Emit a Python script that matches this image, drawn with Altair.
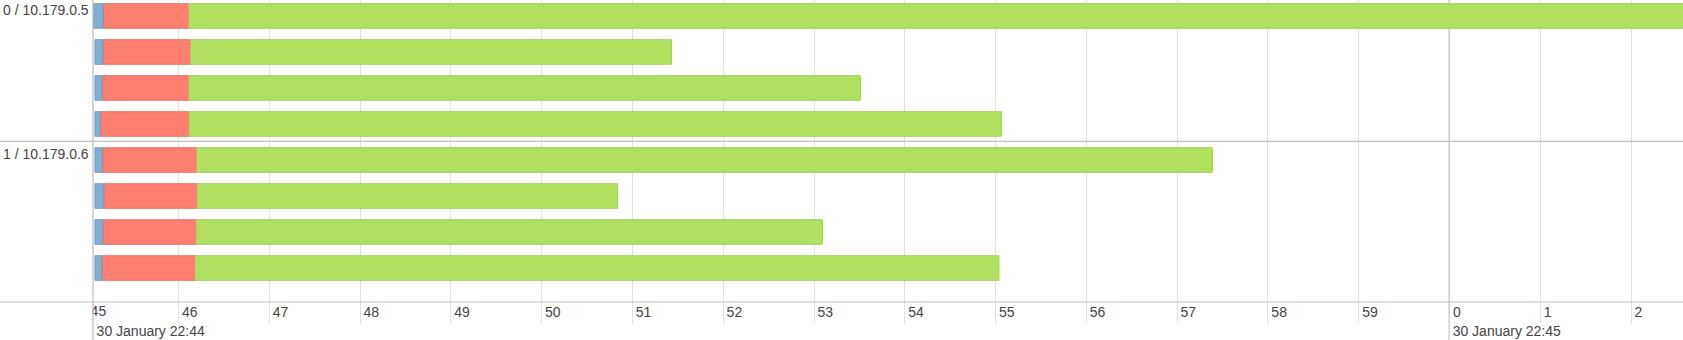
import altair as alt
import pandas as pd

# ---- data (seconds after 30 January 22:44:00) ----
groups = ["0 / 10.179.0.5", "1 / 10.179.0.6"]
group_first_row = [0, 4]
rows = [0, 1, 2, 3, 4, 5, 6, 7]
start = [45.072, 45.086, 45.086, 45.086, 45.086, 45.086, 45.086, 45.086]
blue_end = [45.178, 45.174, 45.167, 45.149, 45.171, 45.185, 45.174, 45.163]
red_end = [46.118, 46.137, 46.118, 46.121, 46.203, 46.209, 46.198, 46.187]
green_end = [63.0, 51.435, 53.516, 55.069, 57.393, 50.840, 53.098, 55.042]
segment_names = ["wait", "setup", "run"]
segment_fill = ["#7eb0d5", "#fd7f6f", "#b2e061"]
segment_stroke = ["#6a9cc4", "#e5705f", "#9fcc58"]

tick_values = list(range(46, 63))
minute_marks = [60]
date_labels = ["30 January 22:44", "30 January 22:45"]
x_domain = [45.064, 62.577]
date_label_x = [x_domain[0], 60]
first_tick_label = [45]
separator_y = [3.48]
y_domain = [-0.444, 7.944]

W, H = 1590, 302
LEFT, BOTTOM = 93, 38
FONT = "Liberation Sans"

# ---- tables ----
seg_rows = []
for i, r in enumerate(rows):
    bounds = [start[i], blue_end[i], red_end[i], green_end[i]]
    for k, name in enumerate(segment_names):
        seg_rows.append({"row": r, "segment": name, "x0": bounds[k], "x1": bounds[k + 1]})
bars_df = pd.DataFrame(seg_rows)
labels_df = pd.DataFrame({"label": groups, "y": [g - 0.145 for g in group_first_row]})
dates_df = pd.DataFrame({"label": date_labels, "x": date_label_x})
minute_df = pd.DataFrame({"x": minute_marks})
sep_df = pd.DataFrame({"y": separator_y})
first_df = pd.DataFrame({"x": first_tick_label, "label": [str(v) for v in first_tick_label]})
one = alt.Data(values=[{}])

xscale = alt.Scale(domain=x_domain, nice=False, zero=False, padding=0)
yscale = alt.Scale(domain=y_domain, reverse=True, nice=False, zero=False, padding=0)
xaxis = alt.Axis(
    values=tick_values, labelExpr="'' + (datum.value % 60)", grid=True,
    gridColor="#e2e2e2", tickColor="#e2e2e2", tickSize=21, domain=False,
    labelAlign="left", labelBaseline="middle", labelPadding=-10.7, labelOffset=3.4,
    labelFontSize=14, labelFont=FONT, labelColor="#444", labelFlush=False,
    labelOverlap=False, title=None, orient="bottom",
)


def X(field):
    return alt.X(field, type="quantitative", scale=xscale, axis=xaxis)


def Y(field):
    return alt.Y(field, type="quantitative", scale=yscale, axis=None)


minute_rule = alt.Chart(minute_df).mark_rule(color="#bbbbbb", strokeWidth=1).encode(
    x=X("x"), y=alt.value(0), y2=alt.value(H + BOTTOM)
)

bars = alt.Chart(bars_df).mark_bar(size=24.5, orient="horizontal", clip=True, strokeWidth=1).encode(
    x=X("x0"), x2="x1", y=Y("row"),
    color=alt.Color("segment:N", scale=alt.Scale(domain=segment_names, range=segment_fill), legend=None),
    stroke=alt.Stroke("segment:N", scale=alt.Scale(domain=segment_names, range=segment_stroke), legend=None),
)

sep_rule = alt.Chart(sep_df).mark_rule(color="#c0c0c0", strokeWidth=1.2).encode(
    y=Y("y"), x=alt.value(-LEFT), x2=alt.value(W)
)
bottom_rule = alt.Chart(one).mark_rule(color="#c0c0c0", strokeWidth=1.2).encode(
    y=alt.value(H), x=alt.value(-LEFT), x2=alt.value(W)
)

group_text = alt.Chart(labels_df).mark_text(
    align="left", baseline="middle", fontSize=14, font=FONT, color="#444"
).encode(text="label:N", y=Y("y"), x=alt.value(-LEFT + 3))

date_text = alt.Chart(dates_df).mark_text(
    align="left", baseline="middle", fontSize=14, font=FONT, color="#444", dx=3.6
).encode(text="label:N", x=X("x"), y=alt.value(H + 30))

first_text = alt.Chart(first_df).mark_text(
    align="left", baseline="middle", fontSize=14, font=FONT, color="#444", dx=3.4
).encode(text="label:N", x=X("x"), y=alt.value(H + 10.3))

mask = alt.Chart(one).mark_rect(color="white").encode(
    x=alt.value(-LEFT), x2=alt.value(-0.5), y=alt.value(H + 1), y2=alt.value(H + 22)
)

left_rule = alt.Chart(one).mark_rule(color="#bbbbbb", strokeWidth=1.2).encode(
    x=alt.value(0), y=alt.value(0), y2=alt.value(H + BOTTOM)
)

chart = alt.layer(
    minute_rule, bars, sep_rule, bottom_rule, group_text, date_text, first_text, mask, left_rule
).properties(
    width=W, height=H,
    padding={"left": LEFT, "top": 0, "right": 0, "bottom": BOTTOM},
    autosize=alt.AutoSizeParams(type="none"),
).configure_view(stroke=None)

chart.save("out.html", embed_options={"renderer": "svg", "actions": False})
